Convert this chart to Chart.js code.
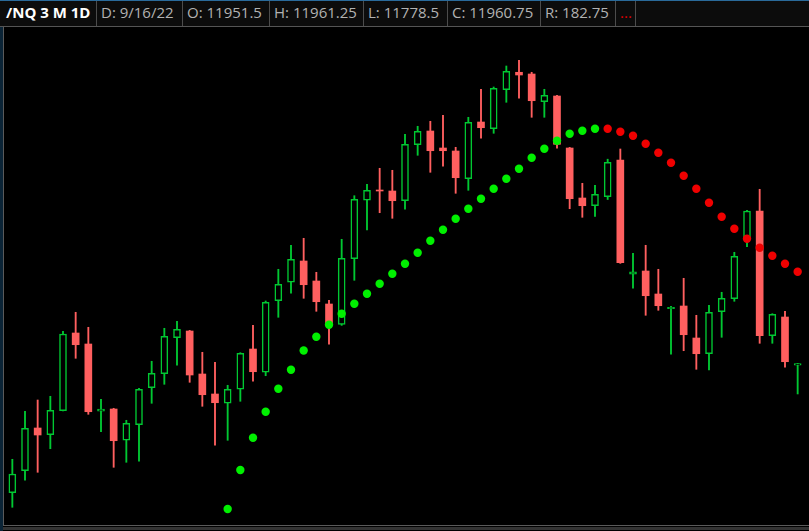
<!DOCTYPE html>
<html>
<head>
<meta charset="utf-8">
<script src="https://cdn.jsdelivr.net/npm/chart.js@4.4.1/dist/chart.umd.min.js"></script>
<style>
  html, body { margin: 0; padding: 0; background: #000; overflow: hidden; }
  body { width: 809px; height: 531px; position: relative; font-family: "Open Sans", sans-serif; }
  #leftbar { position: absolute; left: 0; top: 0; width: 3px; height: 531px; background: #0b2436; }
  #topline { position: absolute; left: 0; top: 0; width: 809px; height: 1px; background: #2a6a9a; }
  #header { position: absolute; left: 0; top: 1px; width: 809px; height: 25px; background: #0c0c0c; border-bottom: 1px solid #555; display: flex; }
  .cell { height: 25px; line-height: 23px; font-size: 15px; color: #b2b2b2; border-right: 1px solid #4c4c4c; box-sizing: border-box; padding-left: 4px; white-space: nowrap; }
  .cell.sym { color: #fff; font-weight: bold; padding-left: 6px; }
  .cell.more { color: #e00000; }
  #frameL { position: absolute; left: 3px; top: 27px; width: 1px; height: 499px; background: #5a5a5a; }
  #frameB { position: absolute; left: 3px; top: 525px; width: 806px; height: 1px; background: #5a5a5a; }
  #scroll { position: absolute; left: 3px; top: 527px; width: 806px; height: 3px; background: #333; }
  #wrap { position: absolute; left: 6px; top: 27px; width: 798px; height: 498px; }
</style>
</head>
<body>
<div id="leftbar"></div>
<div id="header">
  <div class="cell sym" style="width:97px">/NQ 3 M 1D</div>
  <div class="cell" style="width:86px">D: 9/16/22</div>
  <div class="cell" style="width:87px">O: 11951.5</div>
  <div class="cell" style="width:94px">H: 11961.25</div>
  <div class="cell" style="width:84px">L: 11778.5</div>
  <div class="cell" style="width:93px">C: 11960.75</div>
  <div class="cell" style="width:75px">R: 182.75</div>
  <div class="cell more" style="width:20px">...</div>
</div>
<div id="topline"></div>
<div id="wrap"><canvas id="chart" width="798" height="498"></canvas></div>
<div id="frameL"></div>
<div id="frameB"></div>
<div id="scroll"></div>
<script>
// daily /NQ candles, 6/17/22 - 9/16/22
const labels = [
  '6/17','6/21','6/22','6/23','6/24','6/27','6/28','6/29','6/30',
  '7/1','7/5','7/6','7/7','7/8','7/11','7/12','7/13','7/14','7/15','7/18','7/19','7/20','7/21','7/22','7/25','7/26','7/27','7/28','7/29',
  '8/1','8/2','8/3','8/4','8/5','8/8','8/9','8/10','8/11','8/12','8/15','8/16','8/17','8/18','8/19','8/22','8/23','8/24','8/25','8/26','8/29','8/30','8/31',
  '9/1','9/2','9/6','9/7','9/8','9/9','9/12','9/13','9/14','9/15','9/16'
];

const open = [
  11186, 11318, 11574.25, 11534, 11678, 12144.25, 12078.25, 11674.5, 11688.25,
  11500.5, 11594, 11816, 11900, 12116, 12156.25, 11898.25, 11778.25, 11722.5, 11806.5, 12048.25, 11908.5, 12338, 12448.5, 12576.25, 12456.25, 12318.25, 12195.25, 12590, 12940.5,
  13002.25, 12996.25, 12938, 13274, 13356.25, 13254.25, 13236.25, 13070, 13410.25, 13370, 13604, 13708.5, 13698.25, 13532, 13566.25, 13254.25, 12954.25, 12908, 12962, 13182.25, 12496.5, 12516.25, 12378.25,
  12290, 12306.25, 12114.25, 12020, 12272, 12350, 12716, 12876.25, 12128, 12240.25, 11951.5
];
const high = [
  11386.5, 11674.5, 11742.25, 11764.5, 12154.5, 12268.5, 12178.5, 11746.5, 11692.5,
  11620.5, 11812.5, 11974.5, 12172.5, 12214.5, 12160, 12028.5, 11968.5, 11830.5, 12026, 12190.5, 12336.25, 12526.5, 12670.5, 12712.5, 12508.5, 12340.5, 12706.5, 12968, 13036.5,
  13132.5, 13120.5, 13336.5, 13384.5, 13414.5, 13450.5, 13258.5, 13438.5, 13606.5, 13620.25, 13746.25, 13780.5, 13708.5, 13606.5, 13570, 13258, 13042.5, 13030.5, 13187, 13248.25, 12622.5, 12670.5, 12526.5,
  12304.5, 12472.5, 12250.5, 12310.5, 12388.5, 12628.5, 12880, 13006.5, 12260, 12274.5, 11961.25
];
const low = [
  11098.5, 11260.5, 11308.5, 11450, 11676, 11992.5, 11656.5, 11552, 11338.5,
  11368.5, 11374.5, 11722.5, 11836.5, 11950.5, 11848.5, 11704.5, 11470.5, 11500.5, 11734.5, 11854.5, 11888, 12238.5, 12382.5, 12352.5, 12274.5, 12076.5, 12190, 12460.5, 12762.25,
  12866, 12832.5, 12886.5, 13210.5, 13108.5, 13144.5, 12982.5, 13000.5, 13312.5, 13342.5, 13528.5, 13552.5, 13438.5, 13438.5, 13252.5, 12890, 12838.5, 12843.25, 12945.25, 12562, 12412.5, 12250.5, 12280.5,
  12016.5, 12038, 11926.5, 11922.25, 12118.5, 12334.5, 12662, 12082.5, 12082.5, 11938.5, 11778.5
];
const close = [
  11298.25, 11572.5, 11532.25, 11680.5, 12138.25, 12074, 11672, 11688.25, 11498,
  11602.5, 11806.5, 11902.5, 12124.5, 12166.5, 11892.25, 11774, 11726, 11806.5, 12022.5, 11912, 12328.5, 12436.5, 12586.5, 12434, 12332, 12194, 12592.5, 12946.5, 13000.5,
  12996.25, 12938, 13276.5, 13354.5, 13238, 13238, 13076, 13408.5, 13376, 13612.5, 13714.5, 13692.25, 13538, 13570.5, 13276.5, 12950, 12908, 12976.5, 13168.5, 12566, 12512, 12368, 12308,
  12298.5, 12134, 12020, 12268.5, 12352.5, 12604.5, 12876.25, 12128, 12256.5, 11972, 11960.75
];

// parabolic SAR dots: green below price, red above
const sarUp = [
  null, null, null, null, null, null, null, null, null,
  null, null, null, null, null, null, null, null, 11088.25, 11322.25, 11516, 11672, 11810, 11924, 12039.25, 12122, 12194, 12260, 12320, 12380,
  12440, 12500, 12560, 12626, 12698, 12764, 12830, 12890, 12950, 13010, 13070, 13130, 13196, 13250, 13298, 13340, 13358, 13370, null, null, null, null, null,
  null, null, null, null, null, null, null, null, null, null, null
];
const sarDown = [
  null, null, null, null, null, null, null, null, null,
  null, null, null, null, null, null, null, null, null, null, null, null, null, null, null, null, null, null, null, null,
  null, null, null, null, null, null, null, null, null, null, null, null, null, null, null, null, null, null, 13370, 13352, 13328, 13280, 13226,
  13166, 13088, 13010, 12926, 12842, 12770, 12710, 12656, 12608, 12560, 12512
];

const UP = '#00c832';
const DOWN = '#ff5f5f';
const isUp = (i) => close[i] >= open[i];

const bodies = open.map((o, i) => [o, close[i]]);
const wicks = low.map((l, i) => [l, high[i]]);

new Chart(document.getElementById('chart'), {
    type: 'bar',
    data: {
        labels: labels,
        datasets: [
            {
                type: 'line', data: sarUp, order: 0, showLine: false, clip: false,
                pointRadius: 4.2, pointBorderWidth: 0, pointBackgroundColor: '#00f000', pointBorderColor: '#00f000'
            },
            {
                type: 'line', data: sarDown, order: 0, showLine: false, clip: false,
                pointRadius: 4.2, pointBorderWidth: 0, pointBackgroundColor: '#f00000', pointBorderColor: '#f00000'
            },
            {
                data: bodies, order: 1, grouped: false, barThickness: 7, minBarLength: 1,
                borderSkipped: false,
                backgroundColor: (c) => isUp(c.dataIndex) ? '#000' : DOWN,
                borderColor: (c) => isUp(c.dataIndex) ? UP : DOWN,
                borderWidth: (c) => isUp(c.dataIndex) ? 1.5 : 0
            },
            {
                data: wicks, order: 2, grouped: false, barThickness: 1.2,
                borderSkipped: false, borderWidth: 0,
                backgroundColor: (c) => isUp(c.dataIndex) ? UP : DOWN
            }
        ]
    },
    options: {
        responsive: false,
        animation: false,
        devicePixelRatio: 1,
        layout: { padding: 0, autoPadding: false },
        plugins: { legend: { display: false }, tooltip: { enabled: false } },
        scales: {
            x: { type: 'category', offset: true, display: false, grid: { display: false } },
            y: { min: 10992.25, max: 13980.25, display: false, grid: { display: false } }
        }
    }
});
</script>
</body>
</html>
